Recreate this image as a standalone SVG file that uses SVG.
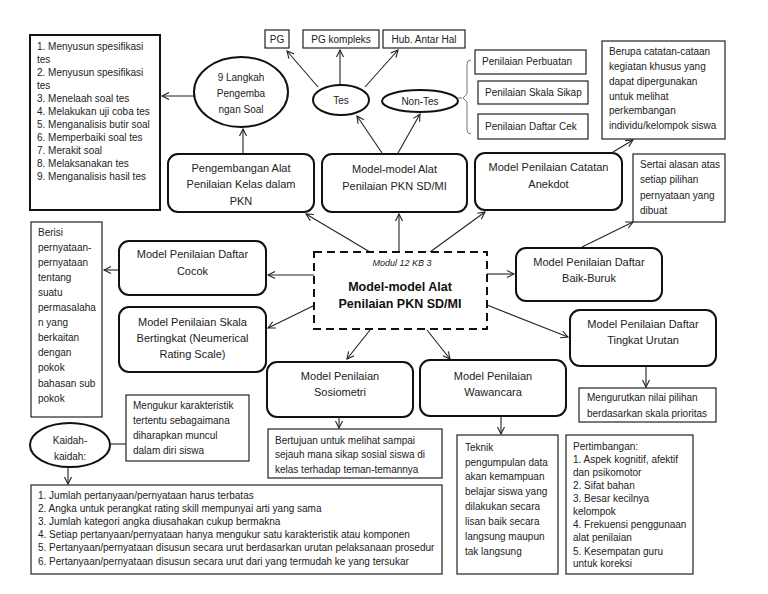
<svg xmlns="http://www.w3.org/2000/svg" width="768" height="594" viewBox="0 0 768 594">
<defs>
<marker id="arr" markerWidth="10" markerHeight="10" refX="8" refY="4" orient="auto" markerUnits="userSpaceOnUse">
<path d="M1,0.5 L8,4 L1,7.5" fill="none" stroke="#222" stroke-width="1.1"/>
</marker>
<style>
.node{fill:#fff;stroke:#111;stroke-width:2}
.box{fill:#fff;stroke:#222;stroke-width:1.2}
.tbox{fill:#fff;stroke:#111;stroke-width:2}
.lbl{font-family:"Liberation Sans",Arial,sans-serif;font-size:11px;fill:#222;text-anchor:middle}
.sm{font-family:"Liberation Sans",Arial,sans-serif;font-size:10px;fill:#222}
.smc{font-family:"Liberation Sans",Arial,sans-serif;font-size:10px;fill:#222;text-anchor:middle}
.con{stroke:#222;stroke-width:1.1;fill:none}
</style>
</defs>
<rect width="768" height="594" fill="#fff"/>

<g id="connectors">
<line class="con" x1="195" y1="96" x2="162" y2="96" marker-end="url(#arr)"/>
<line class="con" x1="243" y1="154" x2="243" y2="129" marker-end="url(#arr)"/>
<line class="con" x1="318" y1="87" x2="287" y2="51" marker-end="url(#arr)"/>
<line class="con" x1="340" y1="85" x2="340" y2="50" marker-end="url(#arr)"/>
<line class="con" x1="365" y1="87" x2="398" y2="50" marker-end="url(#arr)"/>
<line class="con" x1="382" y1="153" x2="357" y2="116" marker-end="url(#arr)"/>
<line class="con" x1="398" y1="153" x2="420" y2="114" marker-end="url(#arr)"/>
<path d="M458,98 L462,98 M471,60 Q467,60 467,64 L467,94 L463,98 L467,102 L467,130 Q467,134 471,134" fill="none" stroke="#777" stroke-width="1"/>
<line class="con" x1="370" y1="252" x2="306" y2="214" marker-end="url(#arr)"/>
<line class="con" x1="399" y1="252" x2="399" y2="214" marker-end="url(#arr)"/>
<line class="con" x1="430" y1="252" x2="485" y2="212" marker-end="url(#arr)"/>
<line class="con" x1="613" y1="152" x2="633" y2="140" marker-end="url(#arr)"/>
<line class="con" x1="582" y1="247" x2="633" y2="222" marker-end="url(#arr)"/>
<line class="con" x1="487" y1="274" x2="514" y2="274" marker-end="url(#arr)"/>
<line class="con" x1="487" y1="305" x2="568" y2="337" marker-end="url(#arr)"/>
<line class="con" x1="646" y1="366" x2="646" y2="387" marker-end="url(#arr)"/>
<line class="con" x1="314" y1="275" x2="268" y2="275" marker-end="url(#arr)"/>
<line class="con" x1="315" y1="305" x2="268" y2="328" marker-end="url(#arr)"/>
<line class="con" x1="119" y1="270" x2="104" y2="270" marker-end="url(#arr)"/>
<line class="con" x1="370" y1="330" x2="347" y2="359" marker-end="url(#arr)"/>
<line class="con" x1="427" y1="330" x2="450" y2="359" marker-end="url(#arr)"/>
<line class="con" x1="339" y1="417" x2="339" y2="428" marker-end="url(#arr)"/>
<line class="con" x1="501" y1="416" x2="501" y2="434" marker-end="url(#arr)"/>
<line class="con" x1="110" y1="444" x2="126" y2="444"/>
<line class="con" x1="68" y1="468" x2="68" y2="484" marker-end="url(#arr)"/>
</g>

<g id="langkah-list">
<rect class="tbox" x="30" y="35" width="130" height="175"/>
<text class="sm" x="37" y="50">1. Menyusun spesifikasi</text>
<text class="sm" x="37" y="63">tes</text>
<text class="sm" x="37" y="76">2. Menyusun spesifikasi</text>
<text class="sm" x="37" y="89">tes</text>
<text class="sm" x="37" y="102">3. Menelaah soal tes</text>
<text class="sm" x="37" y="115">4. Melakukan uji coba tes</text>
<text class="sm" x="37" y="128">5. Menganalisis butir soal</text>
<text class="sm" x="37" y="141">6. Memperbaiki soal tes</text>
<text class="sm" x="37" y="154">7. Merakit soal</text>
<text class="sm" x="37" y="167">8. Melaksanakan tes</text>
<text class="sm" x="37" y="180">9. Menganalisis hasil tes</text>
</g>

<g id="langkah">
<ellipse class="node" cx="241" cy="92" rx="47" ry="35"/>
<text class="smc" x="241" y="81">9 Langkah</text>
<text class="smc" x="241" y="97">Pengemba</text>
<text class="smc" x="241" y="113">ngan Soal</text>
</g>

<g id="pengembangan">
<rect class="node" x="168" y="154" width="146" height="58" rx="10"/>
<text class="lbl" x="241" y="172">Pengembangan Alat</text>
<text class="lbl" x="241" y="188">Penilaian Kelas dalam</text>
<text class="lbl" x="241" y="205">PKN</text>
</g>

<g id="model-alat">
<rect class="node" x="322" y="154" width="145" height="58" rx="10"/>
<text class="lbl" x="394.5" y="173">Model-model Alat</text>
<text class="lbl" x="394.5" y="190">Penilaian PKN SD/MI</text>
</g>

<g id="pg">
<rect class="box" x="265" y="30" width="24" height="18"/>
<text class="smc" x="277" y="43">PG</text>
</g>
<g id="pg-kompleks">
<rect class="box" x="303" y="30" width="76" height="18"/>
<text class="smc" x="341" y="43">PG kompleks</text>
</g>
<g id="hub">
<rect class="box" x="383" y="30" width="82" height="18"/>
<text class="smc" x="424" y="43">Hub. Antar Hal</text>
</g>

<g id="tes">
<ellipse class="node" cx="341" cy="100" rx="28" ry="15"/>
<text class="smc" x="341" y="104">Tes</text>
</g>
<g id="non-tes">
<ellipse class="node" cx="420" cy="101" rx="38" ry="11"/>
<text class="smc" x="420" y="105">Non-Tes</text>
</g>

<g id="perbuatan">
<rect class="box" x="475" y="50" width="111" height="24"/>
<text class="sm" x="482" y="65">Penilaian Perbuatan</text>
</g>
<g id="skala-sikap">
<rect class="box" x="478" y="81" width="110" height="23"/>
<text class="sm" x="485" y="96">Penilaian Skala Sikap</text>
</g>
<g id="daftar-cek">
<rect class="box" x="478" y="114" width="110" height="25"/>
<text class="sm" x="485" y="130">Penilaian Daftar Cek</text>
</g>

<g id="berupa">
<rect class="box" x="602" y="41" width="123" height="98"/>
<text class="sm" x="609" y="55">Berupa catatan-cataan</text>
<text class="sm" x="609" y="70">kegiatan khusus yang</text>
<text class="sm" x="609" y="85">dapat dipergunakan</text>
<text class="sm" x="609" y="100">untuk melihat</text>
<text class="sm" x="609" y="114">perkembangan</text>
<text class="sm" x="609" y="129">individu/kelompok siswa</text>
</g>

<g id="anekdot">
<rect class="node" x="475" y="153" width="147" height="57" rx="10"/>
<text class="lbl" x="548.5" y="171">Model Penilaian Catatan</text>
<text class="lbl" x="548.5" y="188">Anekdot</text>
</g>

<g id="sertai">
<rect class="box" x="633" y="154" width="92" height="68"/>
<text class="sm" x="640" y="168">Sertai alasan atas</text>
<text class="sm" x="640" y="183">setiap pilihan</text>
<text class="sm" x="640" y="199">pernyataan yang</text>
<text class="sm" x="640" y="214">dibuat</text>
</g>

<g id="berisi">
<rect class="box" x="31" y="222" width="71" height="195"/>
<text class="sm" x="38" y="235.5">Berisi</text>
<text class="sm" x="38" y="250.6">pernyataan-</text>
<text class="sm" x="38" y="265.7">pernyataan</text>
<text class="sm" x="38" y="280.8">tentang</text>
<text class="sm" x="38" y="295.9">suatu</text>
<text class="sm" x="38" y="311">permasalaha</text>
<text class="sm" x="38" y="326.1">n yang</text>
<text class="sm" x="38" y="341.2">berkaitan</text>
<text class="sm" x="38" y="356.3">dengan</text>
<text class="sm" x="38" y="371.4">pokok</text>
<text class="sm" x="38" y="386.5">bahasan sub</text>
<text class="sm" x="38" y="401.6">pokok</text>
</g>

<g id="daftar-cocok">
<rect class="node" x="119" y="241" width="147" height="54" rx="10"/>
<text class="lbl" x="192.5" y="258">Model Penilaian Daftar</text>
<text class="lbl" x="192.5" y="275">Cocok</text>
</g>

<g id="skala-bertingkat">
<rect class="node" x="119" y="307" width="147" height="65" rx="10"/>
<text class="lbl" x="192.5" y="326">Model Penilaian Skala</text>
<text class="lbl" x="192.5" y="342">Bertingkat (Neumerical</text>
<text class="lbl" x="192.5" y="358">Rating Scale)</text>
</g>

<g id="center">
<rect x="314" y="252" width="173" height="77" fill="#fff" stroke="#111" stroke-width="2" stroke-dasharray="8,5"/>
<text x="402" y="266" font-family="'Liberation Sans',Arial,sans-serif" font-size="9" font-style="italic" fill="#222" text-anchor="middle">Modul 12 KB 3</text>
<text x="400" y="291" font-family="'Liberation Sans',Arial,sans-serif" font-size="12.5" font-weight="bold" fill="#111" text-anchor="middle">Model-model Alat</text>
<text x="400" y="308" font-family="'Liberation Sans',Arial,sans-serif" font-size="12.5" font-weight="bold" fill="#111" text-anchor="middle">Penilaian PKN SD/MI</text>
</g>

<g id="baik-buruk">
<rect class="node" x="516" y="248" width="146" height="53" rx="10"/>
<text class="lbl" x="589" y="266">Model Penilaian Daftar</text>
<text class="lbl" x="589" y="282">Baik-Buruk</text>
</g>

<g id="tingkat-urutan">
<rect class="node" x="570" y="310" width="146" height="56" rx="10"/>
<text class="lbl" x="643" y="328">Model Penilaian Daftar</text>
<text class="lbl" x="643" y="344">Tingkat Urutan</text>
</g>

<g id="mengurutkan">
<rect class="box" x="579" y="388" width="137" height="34"/>
<text class="sm" x="587" y="401">Mengurutkan nilai pilihan</text>
<text class="sm" x="587" y="417">berdasarkan skala prioritas</text>
</g>

<g id="sosiometri">
<rect class="node" x="267" y="362" width="146" height="55" rx="10"/>
<text class="lbl" x="340" y="380">Model Penilaian</text>
<text class="lbl" x="340" y="396">Sosiometri</text>
</g>

<g id="wawancara">
<rect class="node" x="420" y="360" width="146" height="56" rx="10"/>
<text class="lbl" x="493" y="380">Model Penilaian</text>
<text class="lbl" x="493" y="396">Wawancara</text>
</g>

<g id="bertujuan">
<rect class="box" x="268" y="429" width="174" height="49"/>
<text class="sm" x="275" y="444">Bertujuan untuk melihat sampai</text>
<text class="sm" x="275" y="458">sejauh mana sikap sosial siswa di</text>
<text class="sm" x="275" y="473">kelas terhadap teman-temannya</text>
</g>

<g id="teknik">
<rect class="box" x="457" y="435" width="101" height="139"/>
<text class="sm" x="465" y="451">Teknik</text>
<text class="sm" x="465" y="466">pengumpulan data</text>
<text class="sm" x="465" y="480">akan kemampuan</text>
<text class="sm" x="465" y="495">belajar siswa yang</text>
<text class="sm" x="465" y="510">dilakukan secara</text>
<text class="sm" x="465" y="525">lisan baik secara</text>
<text class="sm" x="465" y="540">langsung maupun</text>
<text class="sm" x="465" y="555">tak langsung</text>
</g>

<g id="pertimbangan">
<rect class="box" x="566" y="435" width="127" height="139"/>
<text class="sm" x="573" y="450">Pertimbangan:</text>
<text class="sm" x="573" y="463">1. Aspek kognitif, afektif</text>
<text class="sm" x="573" y="476">dan psikomotor</text>
<text class="sm" x="573" y="489">2. Sifat bahan</text>
<text class="sm" x="573" y="502">3. Besar kecilnya</text>
<text class="sm" x="573" y="515">kelompok</text>
<text class="sm" x="573" y="528">4. Frekuensi penggunaan</text>
<text class="sm" x="573" y="541">alat penilaian</text>
<text class="sm" x="573" y="555">5. Kesempatan guru</text>
<text class="sm" x="573" y="567">untuk koreksi</text>
</g>

<g id="mengukur">
<rect class="box" x="126" y="395" width="123" height="66"/>
<text class="sm" x="133" y="409">Mengukur karakteristik</text>
<text class="sm" x="133" y="424">tertentu sebagaimana</text>
<text class="sm" x="133" y="439">diharapkan muncul</text>
<text class="sm" x="133" y="454">dalam diri siswa</text>
</g>

<g id="kaidah">
<ellipse class="node" cx="70" cy="445" rx="40" ry="22"/>
<text class="smc" x="70" y="444">Kaidah-</text>
<text class="smc" x="70" y="460">kaidah:</text>
</g>

<g id="kaidah-list">
<rect class="box" x="31" y="485" width="411" height="89"/>
<text class="sm" x="38" y="499">1. Jumlah pertanyaan/pernyataan harus terbatas</text>
<text class="sm" x="38" y="512">2. Angka untuk perangkat rating skill mempunyai arti yang sama</text>
<text class="sm" x="38" y="525">3. Jumlah kategori angka diusahakan cukup bermakna</text>
<text class="sm" x="38" y="538">4. Setiap pertanyaan/pernyataan hanya mengukur satu karakteristik atau komponen</text>
<text class="sm" x="38" y="551">5. Pertanyaan/pernyataan disusun secara urut berdasarkan urutan pelaksanaan prosedur</text>
<text class="sm" x="38" y="565">6. Pertanyaan/pernyataan disusun secara urut dari yang termudah ke yang tersukar</text>
</g>
</svg>
